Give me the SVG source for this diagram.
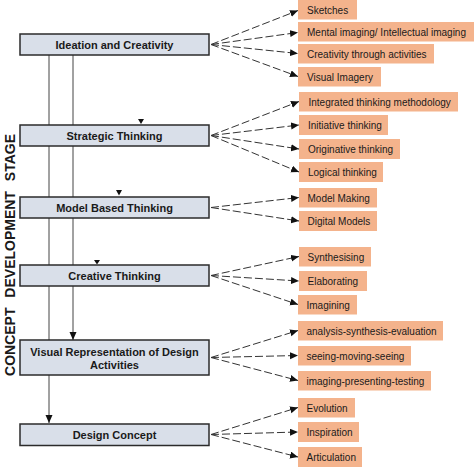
<svg xmlns="http://www.w3.org/2000/svg" width="474" height="467" viewBox="0 0 474 467">
<style>
.main rect{fill:#D9DFE9;stroke:#2b2b2b;stroke-width:1.5}
.main text{font-family:"Liberation Sans",Arial,sans-serif;font-size:11px;font-weight:bold;fill:#1a1a1a;text-anchor:middle}
.leaf rect{fill:#F4B38C}
.leaf text{font-family:"Liberation Sans",Arial,sans-serif;font-size:10px;fill:#1a1a1a}
.dash{stroke:#333;stroke-width:1;stroke-dasharray:8,3;fill:none;marker-end:url(#ah)}
.solid{stroke:#444;stroke-width:1;fill:none}
.side{font-family:"Liberation Sans",Arial,sans-serif;font-size:14px;font-weight:bold;fill:#1a1a1a;text-anchor:middle}
</style>
<defs>
<marker id="ah" markerUnits="userSpaceOnUse" markerWidth="9" markerHeight="8" refX="8" refY="3.5" orient="auto">
<path d="M0,0 L8,3.5 L0,7 Z" fill="#111"/>
</marker>
<marker id="ahv" markerUnits="userSpaceOnUse" markerWidth="9" markerHeight="9" refX="8" refY="3.5" orient="auto">
<path d="M0,0 L8,3.5 L0,7 Z" fill="#111"/>
</marker>
</defs>
<rect width="474" height="467" fill="#fff"/>

<text class="side" transform="translate(15,255) rotate(-90)" word-spacing="6">CONCEPT DEVELOPMENT STAGE</text>

<g id="connectors">
<line class="solid" x1="49" y1="55" x2="49" y2="423" marker-end="url(#ahv)"/>
<line class="solid" x1="73" y1="55" x2="73" y2="340" marker-end="url(#ahv)"/>
<path d="M138,119 L144,119 L141,124 Z" fill="#111"/>
<path d="M116,190 L122,190 L119,195.5 Z" fill="#111"/>
<path d="M94,260 L100,260 L97,264.5 Z" fill="#111"/>
<line class="dash" x1="211" y1="44.5" x2="298" y2="10.5"/>
<line class="dash" x1="211" y1="44.5" x2="298" y2="32.5"/>
<line class="dash" x1="211" y1="44.5" x2="298" y2="53.5"/>
<line class="dash" x1="211" y1="44.5" x2="298" y2="76.5"/>
<line class="dash" x1="211" y1="135.5" x2="299" y2="101.5"/>
<line class="dash" x1="211" y1="135.5" x2="299" y2="125"/>
<line class="dash" x1="211" y1="135.5" x2="299" y2="149"/>
<line class="dash" x1="211" y1="135.5" x2="299" y2="172"/>
<line class="dash" x1="211" y1="207.5" x2="299" y2="197.5"/>
<line class="dash" x1="211" y1="207.5" x2="299" y2="221"/>
<line class="dash" x1="211" y1="275.5" x2="299" y2="256.5"/>
<line class="dash" x1="211" y1="275.5" x2="299" y2="281"/>
<line class="dash" x1="211" y1="275.5" x2="298" y2="304.5"/>
<line class="dash" x1="211" y1="357.5" x2="298" y2="330.5"/>
<line class="dash" x1="211" y1="357.5" x2="298" y2="355.5"/>
<line class="dash" x1="211" y1="357.5" x2="298" y2="380.5"/>
<line class="dash" x1="211" y1="434.5" x2="298" y2="407.5"/>
<line class="dash" x1="211" y1="434.5" x2="298" y2="432"/>
<line class="dash" x1="211" y1="434.5" x2="298" y2="457"/>
</g>

<g id="n1" class="main"><rect x="20" y="34" width="189" height="21"/><text x="114.5" y="48.5">Ideation and Creativity</text></g>
<g id="n2" class="main"><rect x="20" y="125" width="189" height="21"/><text x="114.5" y="139.5">Strategic Thinking</text></g>
<g id="n3" class="main"><rect x="20" y="197" width="189" height="21"/><text x="114.5" y="211.5">Model Based Thinking</text></g>
<g id="n4" class="main"><rect x="20" y="265" width="189" height="21"/><text x="114.5" y="279.5">Creative Thinking</text></g>
<g id="n5" class="main"><rect x="20" y="340" width="189" height="35"/><text x="114.5" y="355.5">Visual Representation of Design</text><text x="114.5" y="368.5">Activities</text></g>
<g id="n6" class="main"><rect x="20" y="424" width="189" height="21.5"/><text x="114.5" y="438.5">Design Concept</text></g>

<g id="l1" class="leaf"><rect x="298" y="0" width="59" height="19.5"/><text x="307" y="13.5">Sketches</text></g>
<g id="l2" class="leaf"><rect x="298" y="22" width="176" height="19.5"/><text x="307" y="35.5">Mental imaging/ Intellectual imaging</text></g>
<g id="l3" class="leaf"><rect x="298" y="44" width="136" height="19.5"/><text x="307" y="57.5">Creativity through activities</text></g>
<g id="l4" class="leaf"><rect x="298" y="67" width="83" height="19.5"/><text x="307" y="80.5">Visual Imagery</text></g>
<g id="l5" class="leaf"><rect x="299" y="92" width="159" height="19.5"/><text x="308.5" y="105.5">Integrated thinking methodology</text></g>
<g id="l6" class="leaf"><rect x="299" y="115" width="89" height="20"/><text x="308" y="129">Initiative thinking</text></g>
<g id="l7" class="leaf"><rect x="299" y="139" width="101" height="20"/><text x="308" y="153">Originative thinking</text></g>
<g id="l8" class="leaf"><rect x="299" y="162" width="84" height="20"/><text x="308" y="176">Logical thinking</text></g>
<g id="l9" class="leaf"><rect x="299" y="188" width="78" height="19.5"/><text x="307.5" y="201.5">Model Making</text></g>
<g id="l10" class="leaf"><rect x="299" y="211" width="78" height="20"/><text x="307.5" y="225">Digital Models</text></g>
<g id="l11" class="leaf"><rect x="299" y="247" width="72" height="19.5"/><text x="307.5" y="260.5">Synthesising</text></g>
<g id="l12" class="leaf"><rect x="299" y="271" width="68" height="20"/><text x="307.5" y="285">Elaborating</text></g>
<g id="l13" class="leaf"><rect x="298" y="295" width="59" height="19.5"/><text x="306.5" y="308.5">Imagining</text></g>
<g id="l14" class="leaf"><rect x="298" y="321" width="145" height="19.5"/><text x="306.5" y="334.5">analysis-synthesis-evaluation</text></g>
<g id="l15" class="leaf"><rect x="298" y="346" width="113" height="19.5"/><text x="306.5" y="359.5">seeing-moving-seeing</text></g>
<g id="l16" class="leaf"><rect x="298" y="371" width="133" height="19.5"/><text x="306.5" y="384.5">imaging-presenting-testing</text></g>
<g id="l17" class="leaf"><rect x="298" y="398" width="57" height="19.5"/><text x="306.5" y="411.5">Evolution</text></g>
<g id="l18" class="leaf"><rect x="298" y="422" width="61" height="20"/><text x="306.5" y="436">Inspiration</text></g>
<g id="l19" class="leaf"><rect x="298" y="447" width="64" height="20"/><text x="306.5" y="461">Articulation</text></g>
</svg>
